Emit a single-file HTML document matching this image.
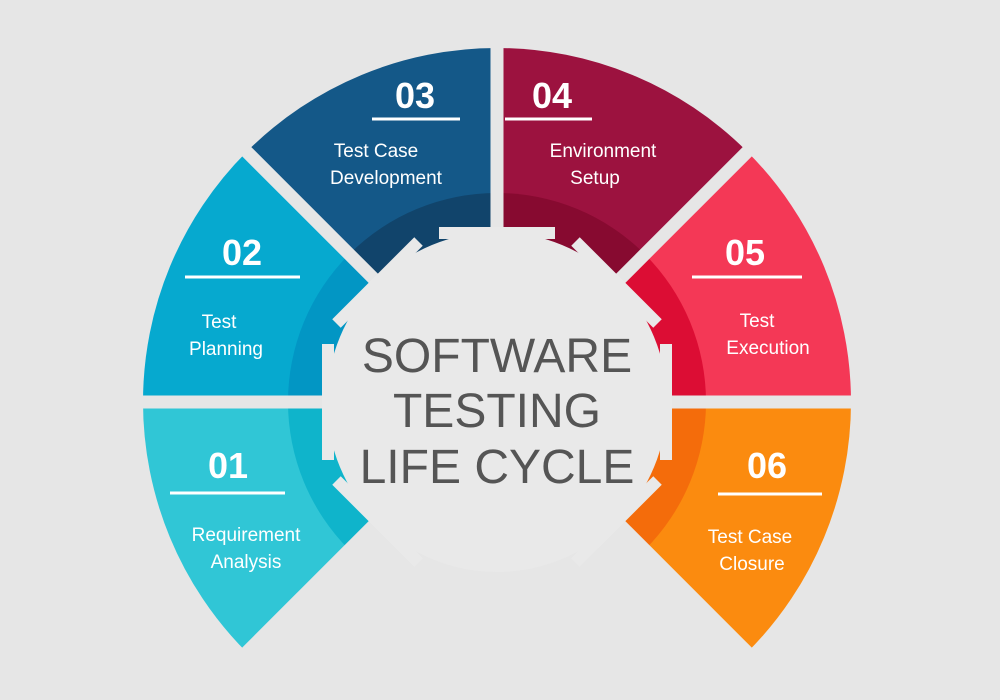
<!DOCTYPE html>
<html><head><meta charset="utf-8"><style>
html,body{margin:0;padding:0;background:#e6e6e6;overflow:hidden;}
svg{display:block}
text{font-family:"Liberation Sans",sans-serif;}
</style></head><body>
<svg width="1000" height="700" viewBox="0 0 1000 700" xmlns="http://www.w3.org/2000/svg">
<rect width="1000" height="700" fill="#e6e6e6"/>
<g transform="translate(497,402)">
<path d="M0 0 L354 0 A354 354 0 0 1 250.3 250.3 Z" fill="#fb8b0f"/>
<path d="M0 0 L209 0 A209 209 0 0 1 147.8 147.8 Z" fill="#f46c0b"/>
<path d="M0 0 L354 0 A354 354 0 0 0 250.3 -250.3 Z" fill="#f43856"/>
<path d="M0 0 L209 0 A209 209 0 0 0 147.8 -147.8 Z" fill="#dc0d34"/>
<path d="M0 0 L250.3 -250.3 A354 354 0 0 0 0 -354 Z" fill="#9c123f"/>
<path d="M0 0 L147.8 -147.8 A209 209 0 0 0 0 -209 Z" fill="#870a30"/>
<path d="M0 0 L0 -354 A354 354 0 0 0 -250.3 -250.3 Z" fill="#145888"/>
<path d="M0 0 L0 -209 A209 209 0 0 0 -147.8 -147.8 Z" fill="#11446b"/>
<path d="M0 0 L-250.3 -250.3 A354 354 0 0 0 -354 0 Z" fill="#06a9cf"/>
<path d="M0 0 L-147.8 -147.8 A209 209 0 0 0 -209 0 Z" fill="#0296c4"/>
<path d="M0 0 L-354 0 A354 354 0 0 0 -250.3 250.3 Z" fill="#30c6d6"/>
<path d="M0 0 L-209 0 A209 209 0 0 0 -147.8 147.8 Z" fill="#0fb4cb"/>
<g stroke="#e6e6e6" stroke-width="13">
<line x1="0" y1="0" x2="0" y2="-356"/>
<line x1="0" y1="0" x2="356" y2="0"/>
<line x1="0" y1="0" x2="-356" y2="0"/>
<line x1="0" y1="0" x2="252" y2="-252"/>
<line x1="0" y1="0" x2="-252" y2="-252"/>
<line x1="0" y1="0" x2="252" y2="252"/>
<line x1="0" y1="0" x2="-252" y2="252"/>
</g>
<circle r="170" fill="#e9e9e9"/>
<g fill="#e9e9e9">
<rect x="-58" y="-175" width="116" height="12"/>
<rect x="-58" y="-175" width="116" height="12" transform="rotate(45)"/>
<rect x="-58" y="-175" width="116" height="12" transform="rotate(-45)"/>
<rect x="-58" y="-175" width="116" height="12" transform="rotate(90)"/>
<rect x="-58" y="-175" width="116" height="12" transform="rotate(-90)"/>
<rect x="-58" y="-175" width="116" height="12" transform="rotate(135)"/>
<rect x="-58" y="-175" width="116" height="12" transform="rotate(-135)"/>
</g>
</g>
<g fill="#555" font-size="48" text-anchor="middle">
<text x="497" y="372">SOFTWARE</text>
<text x="497" y="427">TESTING</text>
<text x="497" y="483">LIFE CYCLE</text>
</g>
<g fill="#fff" text-anchor="middle">
<g font-size="36" font-weight="bold">
<text x="415" y="108">03</text>
<text x="552" y="108">04</text>
<text x="242" y="265">02</text>
<text x="745" y="265">05</text>
<text x="228" y="478">01</text>
<text x="767" y="478">06</text>
</g>
<g stroke="#fff" stroke-width="3">
<line x1="372" y1="119" x2="460" y2="119"/>
<line x1="505" y1="119" x2="592" y2="119"/>
<line x1="185" y1="277" x2="300" y2="277"/>
<line x1="692" y1="277" x2="802" y2="277"/>
<line x1="170" y1="493" x2="285" y2="493"/>
<line x1="718" y1="494" x2="822" y2="494"/>
</g>
<g font-size="19">
<text x="376" y="157">Test Case</text>
<text x="386" y="184">Development</text>
<text x="603" y="157">Environment</text>
<text x="595" y="184">Setup</text>
<text x="219" y="328">Test</text>
<text x="226" y="355">Planning</text>
<text x="757" y="327">Test</text>
<text x="768" y="354">Execution</text>
<text x="246" y="541">Requirement</text>
<text x="246" y="568">Analysis</text>
<text x="750" y="543">Test Case</text>
<text x="752" y="570">Closure</text>
</g>
</g>
</svg>
</body></html>
